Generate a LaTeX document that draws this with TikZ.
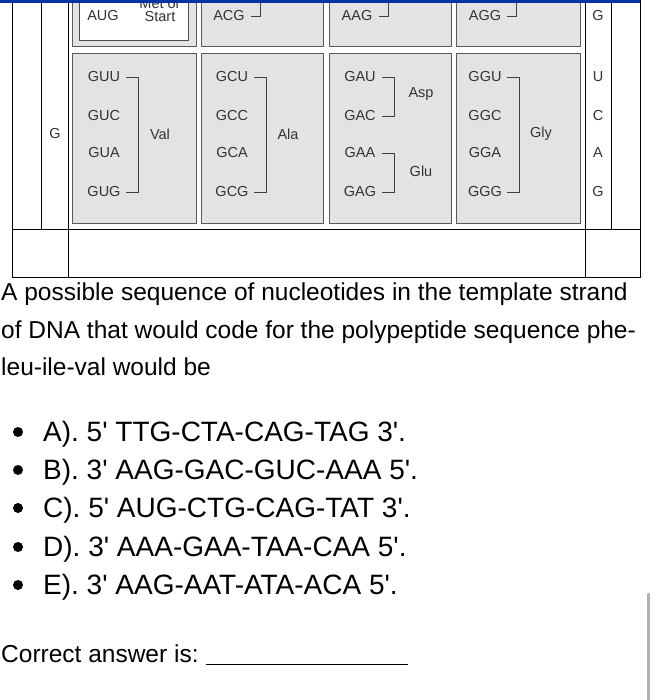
\documentclass[tikz,border=0pt]{standalone}
\usepackage{fontspec}
\setmainfont{Liberation Sans}
\newcommand{\sq}{\textquotesingle}
\begin{document}
\begin{tikzpicture}[x=1pt,y=-1pt,
  ln/.style={draw=black,line width=1pt},
  cbox/.style={draw=gray!70!black,fill=gray!22,line width=0.8pt},
  cd/.style={font=\fontsize{14.5}{14}\selectfont,text=black!80,inner sep=0pt},
  br/.style={draw=black!75,line width=0.7pt},
  qt/.style={font=\fontsize{24.5}{24}\selectfont,anchor=base west,inner sep=0pt},
  ot/.style={font=\fontsize{28}{28}\selectfont,anchor=base west,inner sep=0pt}]
\useasboundingbox (0,0) rectangle (655,700);
\begin{scope}
\clip (0,0) rectangle (655,700);
% table lines
\draw[ln] (12,0) -- (12,277) -- (640,277) -- (640,0);
\draw[ln] (12,230) -- (640,230);
\draw[ln] (41,0) -- (41,230);
\draw[ln] (68,0) -- (68,277);
\draw[ln] (585,0) -- (585,277);
\draw[ln] (611,0) -- (611,230);
% boxes
\foreach \xa/\xb in {72/196,201/323,329/451,456/580}{
  \path[cbox] (\xa,-5) rectangle (\xb,46);
  \path[cbox] (\xa,53) rectangle (\xb,223);
}
\path[draw=gray!60!black,fill=white,line width=0.8pt] (79,-5) rectangle (188,40);
% top row texts
\node[cd] (aug) at (103,16) {AUG};
\node[cd,align=center,font=\fontsize{14.5}{13}\selectfont] (met) at (160,10) {Met or\\Start};
\node[cd] (acg) at (229,16) {ACG};
\draw[br] (251,16) -- (260,16) -- (260,-5);
\node[cd] (aag) at (357,16) {AAG};
\draw[br] (379,16) -- (388,16) -- (388,-5);
\node[cd] (lys) at (406,-3) {Lys};
\node[cd] (agg) at (485,16) {AGG};
\draw[br] (507,16) -- (516,16) -- (516,-5);
\node[cd] (arg) at (534,-3) {Arg};
% bottom row
\foreach \b/\x/\aa in {U/104/Val,C/232/Ala,G/485/Gly}{
  \node[cd] at (\x,77) {G\b U};
  \node[cd] at (\x,116) {G\b C};
  \node[cd] at (\x,153) {G\b A};
  \node[cd] at (\x,192) {G\b G};
  \draw[br] (\x+22,77) -- (\x+34,77) -- (\x+34,192) -- (\x+22,192);
  \node[cd] at (\x+56,134) {\aa};
}
\node[cd] (gau) at (360,77) {GAU};
\node[cd] (gac) at (360,116) {GAC};
\node[cd] (gaa) at (360,153) {GAA};
\node[cd] (gag) at (360,192) {GAG};
\draw[br] (382,77) -- (394,77) -- (394,116) -- (382,116);
\draw[br] (382,153) -- (394,153) -- (394,192) -- (382,192);
\node[cd] (asp) at (421,94) {Asp};
\node[cd] (glu) at (421,171) {Glu};
% side letters
\node[cd] (lg) at (55,134) {G};
\node[cd] (r0) at (598,16) {G};
\node[cd] (r1) at (598,77) {U};
\node[cd] (r2) at (598,116) {C};
\node[cd] (r3) at (598,153) {A};
\node[cd] (r4) at (598,192) {G};
% blue bar
\fill[blue!55!black!80!cyan] (0,0) rectangle (640,3);
\end{scope}
% question text
\node[qt] (q1) at (1,300) {A possible sequence of nucleotides in the template strand};
\node[qt] (q2) at (1,338) {of DNA that would code for the polypeptide sequence phe-};
\node[qt] (q3) at (1,375) {leu-ile-val would be};
\foreach \y/\t in {441/{A). 5\sq{} TTG-CTA-CAG-TAG 3\sq.},479/{B). 3\sq{} AAG-GAC-GUC-AAA 5\sq.},517/{C). 5\sq{} AUG-CTG-CAG-TAT 3\sq.},556/{D). 3\sq{} AAA-GAA-TAA-CAA 5\sq.},594/{E). 3\sq{} AAG-AAT-ATA-ACA 5\sq.}}{
  \fill (18,\y-9) circle (5);
  \node[ot] at (43,\y) {\t};
}
\node[qt] (ans) at (1,662) {Correct answer is:};
\draw[line width=0.8pt] (206,664) -- (408,664);
\draw[gray!60,line width=3pt,line cap=round] (648,594) -- (648,700);
\end{tikzpicture}
\end{document}
